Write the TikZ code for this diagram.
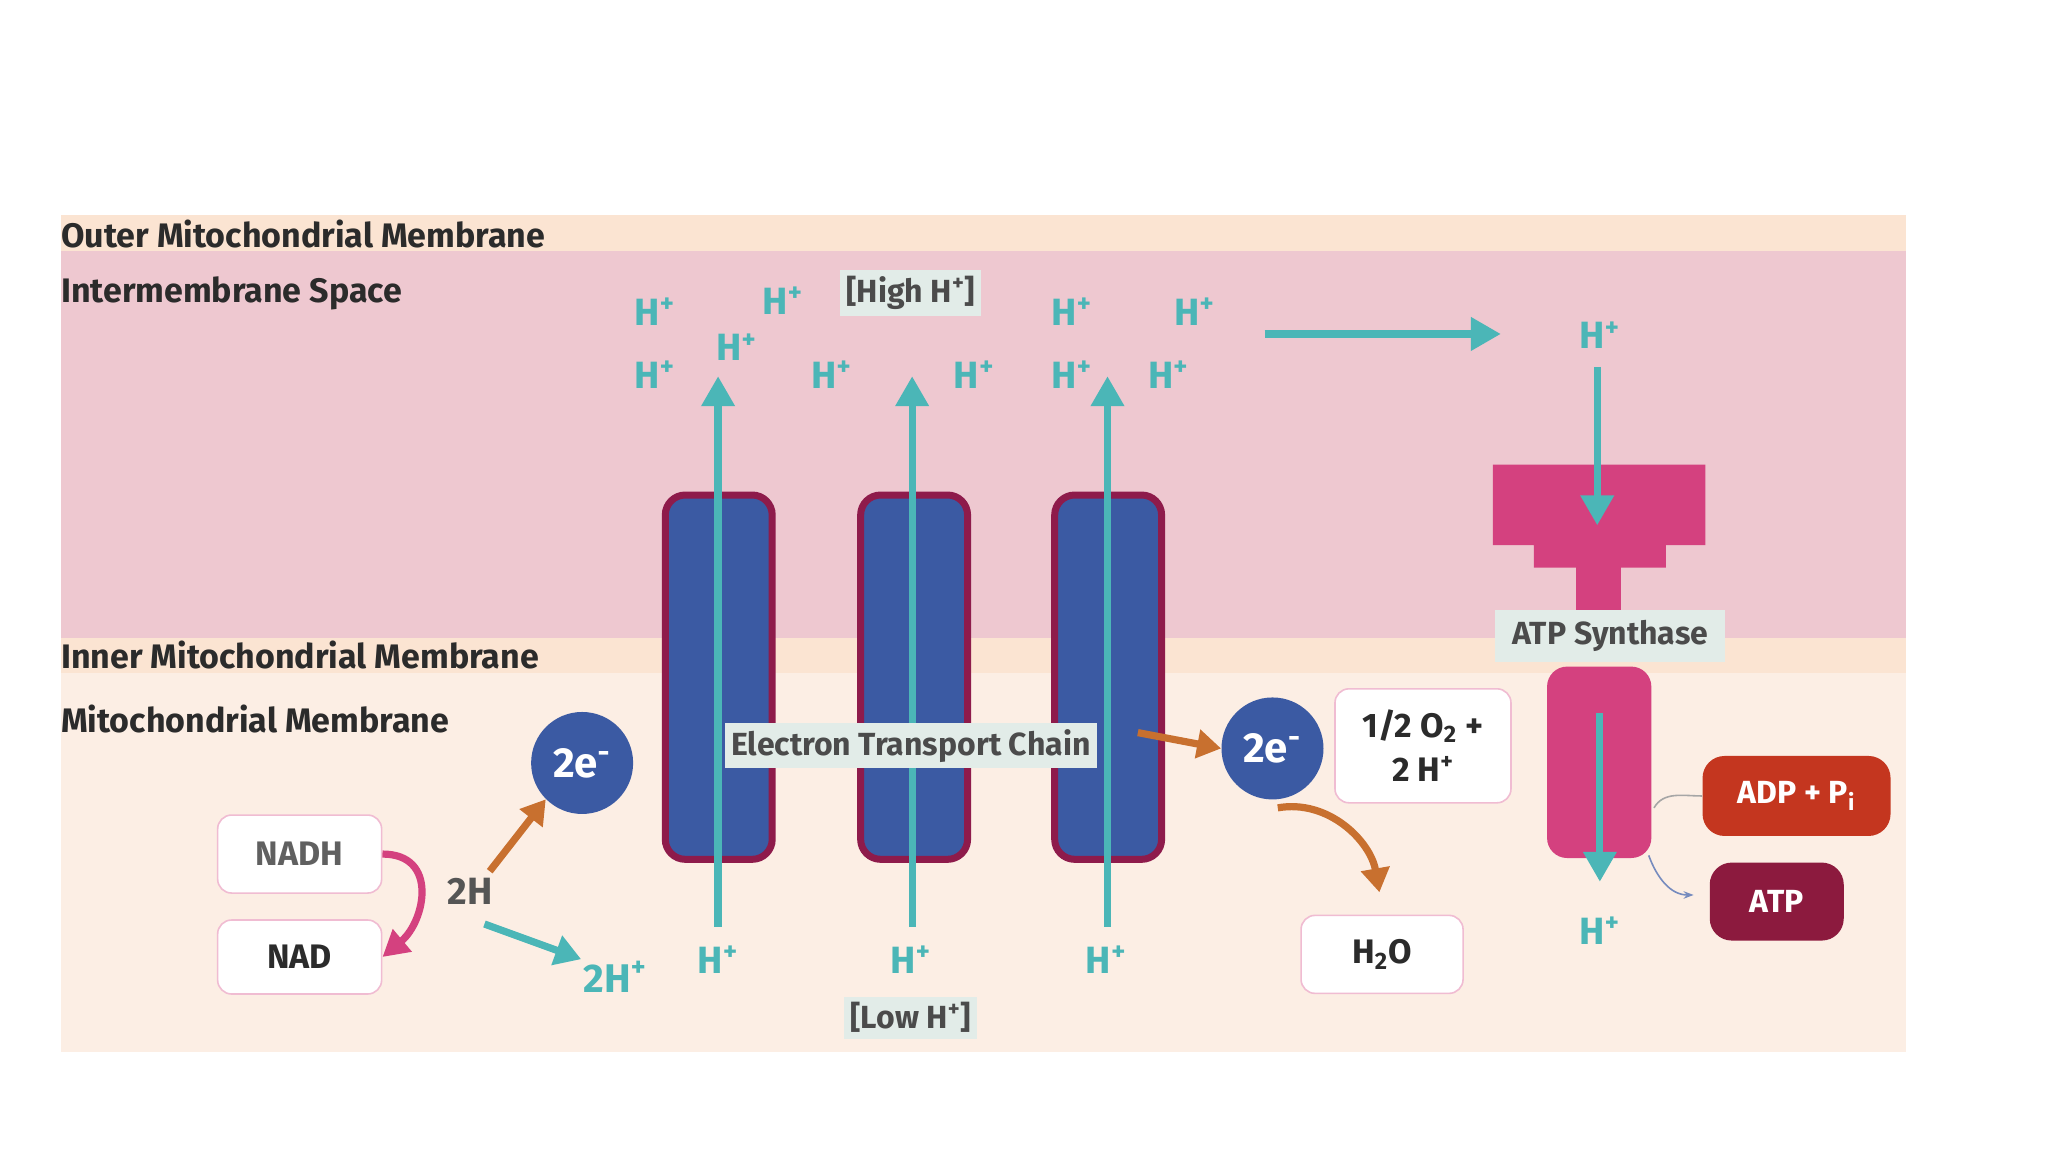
\documentclass[tikz,border=0pt]{standalone}
\usepackage{fontspec}
\setmainfont{Fira Sans}
\usetikzlibrary{arrows.meta}
\definecolor{obd}{HTML}{FBE4D2}
\definecolor{ims}{HTML}{EEC8D0}
\definecolor{mtx}{HTML}{FCEEE4}
\definecolor{cyn}{HTML}{4BB6B7}
\definecolor{cblue}{HTML}{3B5AA3}
\definecolor{cbord}{HTML}{8E1B4B}
\definecolor{pnk}{HTML}{D4417F}
\definecolor{org}{HTML}{C8702F}
\definecolor{lbl}{HTML}{E2ECE8}
\definecolor{adp}{HTML}{C4361F}
\definecolor{atp}{HTML}{8C1A3E}
\definecolor{txt}{HTML}{2B2B2B}
\begin{document}
\begin{tikzpicture}[x=0.66pt,y=-0.66pt,font=\bfseries,
 reg/.style={font=\fontsize{17}{19}\selectfont\bfseries,text=txt,anchor=west,inner sep=0},
 hp/.style={font=\fontsize{19}{21}\selectfont\bfseries,text=cyn,inner sep=1pt},
 tag/.style={fill=lbl,font=\fontsize{16}{18}\selectfont\bfseries,text=txt!85,inner sep=3pt},
 cplx/.style={draw=cbord,line width=3.5pt,fill=cblue,rounded corners=10pt},
 pa/.style={cyn,line width=3.6pt,-{Triangle[length=15pt,width=16pt]}},
 oa/.style={org,line width=3.6pt,-{Triangle[length=12pt,width=14pt]}},
 el/.style={circle,fill=cblue,minimum size=51pt,text=white,font=\fontsize{21}{23}\selectfont\bfseries,inner sep=0},
 wb/.style={draw=pnk!35,line width=0.8pt,fill=white,rounded corners=7pt,font=\fontsize{17}{22}\selectfont\bfseries,text=txt,align=center,inner sep=2pt}]
\useasboundingbox (0,0) rectangle (1551.5,872.7);
\fill[white] (0,0) rectangle (1551.5,872.7);
\fill[obd] (46,163) rectangle (1444,190);
\fill[ims] (46,190) rectangle (1444,483);
\fill[obd] (46,483) rectangle (1444,510);
\fill[mtx] (46,510) rectangle (1444,797);
\node[reg] (l1) at (46,177) {Outer Mitochondrial Membrane};
\node[reg] (l2) at (46,222) {Intermembrane Space};
\node[reg] (l3) at (46,496) {Inner Mitochondrial Membrane};
\node[reg] (l4) at (46,545) {Mitochondrial Membrane};
% complexes
\draw[cplx] (504,375) rectangle (585,651);
\draw[cplx] (652,375) rectangle (733,651);
\draw[cplx] (799,375) rectangle (880,651);
\coordinate (b1) at (544,702); \coordinate (t1) at (544,285);
\coordinate (b2) at (691,702); \coordinate (t2) at (691,285);
\coordinate (b3) at (839,702); \coordinate (t3) at (839,285);
\draw[pa] (b1) -- (t1);
\draw[pa] (b2) -- (t2);
\draw[pa] (b3) -- (t3);
\node[tag] (etc) at (690,565) {Electron Transport Chain};
% H+ labels
\foreach \p/\n in {{(496,236)}/a,{(593,228)}/b,{(558,263)}/c,{(496,284)}/d,{(630,284)}/e,{(738,284)}/f,{(812,236)}/g,{(905,236)}/h,{(812,284)}/i,{(885,284)}/j,{(544,727)}/k,{(690,727)}/l,{(838,727)}/m,{(1212,254)}/n,{(1212,705)}/o}
  \node[hp] (h\n) at \p {H\textsuperscript{+}};
\node[tag] (high) at (690,222) {[High H\textsuperscript{+}]};
\node[tag] (low) at (690,771) {[Low H\textsuperscript{+}]};
\coordinate (ha) at (958,253); \coordinate (hb) at (1137,253);
\draw[pa] (ha) -- (hb);
\coordinate (da) at (1210,278); \coordinate (db) at (1210,398);
% ATP synthase
\fill[pnk] (1131,352) -- (1292,352) -- (1292,413) -- (1262,413) -- (1262,430) -- (1228,430) -- (1228,462) -- (1194,462) -- (1194,430) -- (1162,430) -- (1162,413) -- (1131,413) -- cycle;
\draw[pa] (da) -- (db);
\node[tag,minimum width=115pt,minimum height=26pt] (syn) at (1220,482) {ATP Synthase};
\fill[pnk,rounded corners=10pt] (1172,505) rectangle (1251,650);
\coordinate (sa) at (1212,540); \coordinate (sb) at (1212,668);
\draw[pa] (sa) -- (sb);
\node[fill=adp,rounded corners=11pt,minimum width=94pt,minimum height=40pt,text=white,font=\fontsize{16}{18}\selectfont\bfseries] (adp) at (1361,603) {ADP + P\textsubscript{i}};
\node[fill=atp,rounded corners=11pt,minimum width=67pt,minimum height=39pt,text=white,font=\fontsize{16}{18}\selectfont\bfseries] (atp) at (1346,683) {ATP};
\coordinate (s1) at (1253,612); \coordinate (s2) at (1249,648);
\draw[gray!70,line width=0.8pt] (s1) to[out=60,in=180] (adp.west);
\draw[cblue!70,line width=0.8pt,-{Stealth[length=5pt]}] (s2) to[out=-70,in=180] (1283,678);
% electrons
\node[el] (e1) at (441,578) {2e\textsuperscript{-}};
\node[el] (e2) at (964,567) {2e\textsuperscript{-}};
\node[wb,minimum width=88pt,minimum height=57pt] (o2) at (1078,565) {1/2 O\textsubscript{2} +\\2 H\textsuperscript{+}};
\node[wb,minimum width=81pt,minimum height=39pt] (h2o) at (1047,723) {H\textsubscript{2}O};
\coordinate (oa1) at (862,555);
\draw[oa] (oa1) -- (e2.west);
\coordinate (c1) at (968,612);
\draw[oa] (c1) to[out=10,in=100] (1045,676);
% NADH
\node[wb,minimum width=82pt,minimum height=39pt,text=txt!75] (nadh) at (227,647) {NADH};
\node[wb,minimum width=82pt,minimum height=37pt] (nad) at (227,725) {NAD};
\draw[pnk,line width=3.6pt,-{Triangle[length=13pt,width=14pt]}] (nadh.east) to[out=0,in=40,looseness=1.4] (nad.east);
\node[font=\fontsize{19}{21}\selectfont\bfseries,text=txt!80] (twoh) at (356,675) {2H};
\draw[oa] (371,660) -- (e1.south west);
\node[hp,font=\fontsize{20}{22}\selectfont\bfseries] (twohp) at (466,740) {2H\textsuperscript{+}};
\draw[cyn,line width=3.6pt,-{Triangle[length=13pt,width=15pt]}] (367,700) -- (twohp.north west);
\end{tikzpicture}
\end{document}
